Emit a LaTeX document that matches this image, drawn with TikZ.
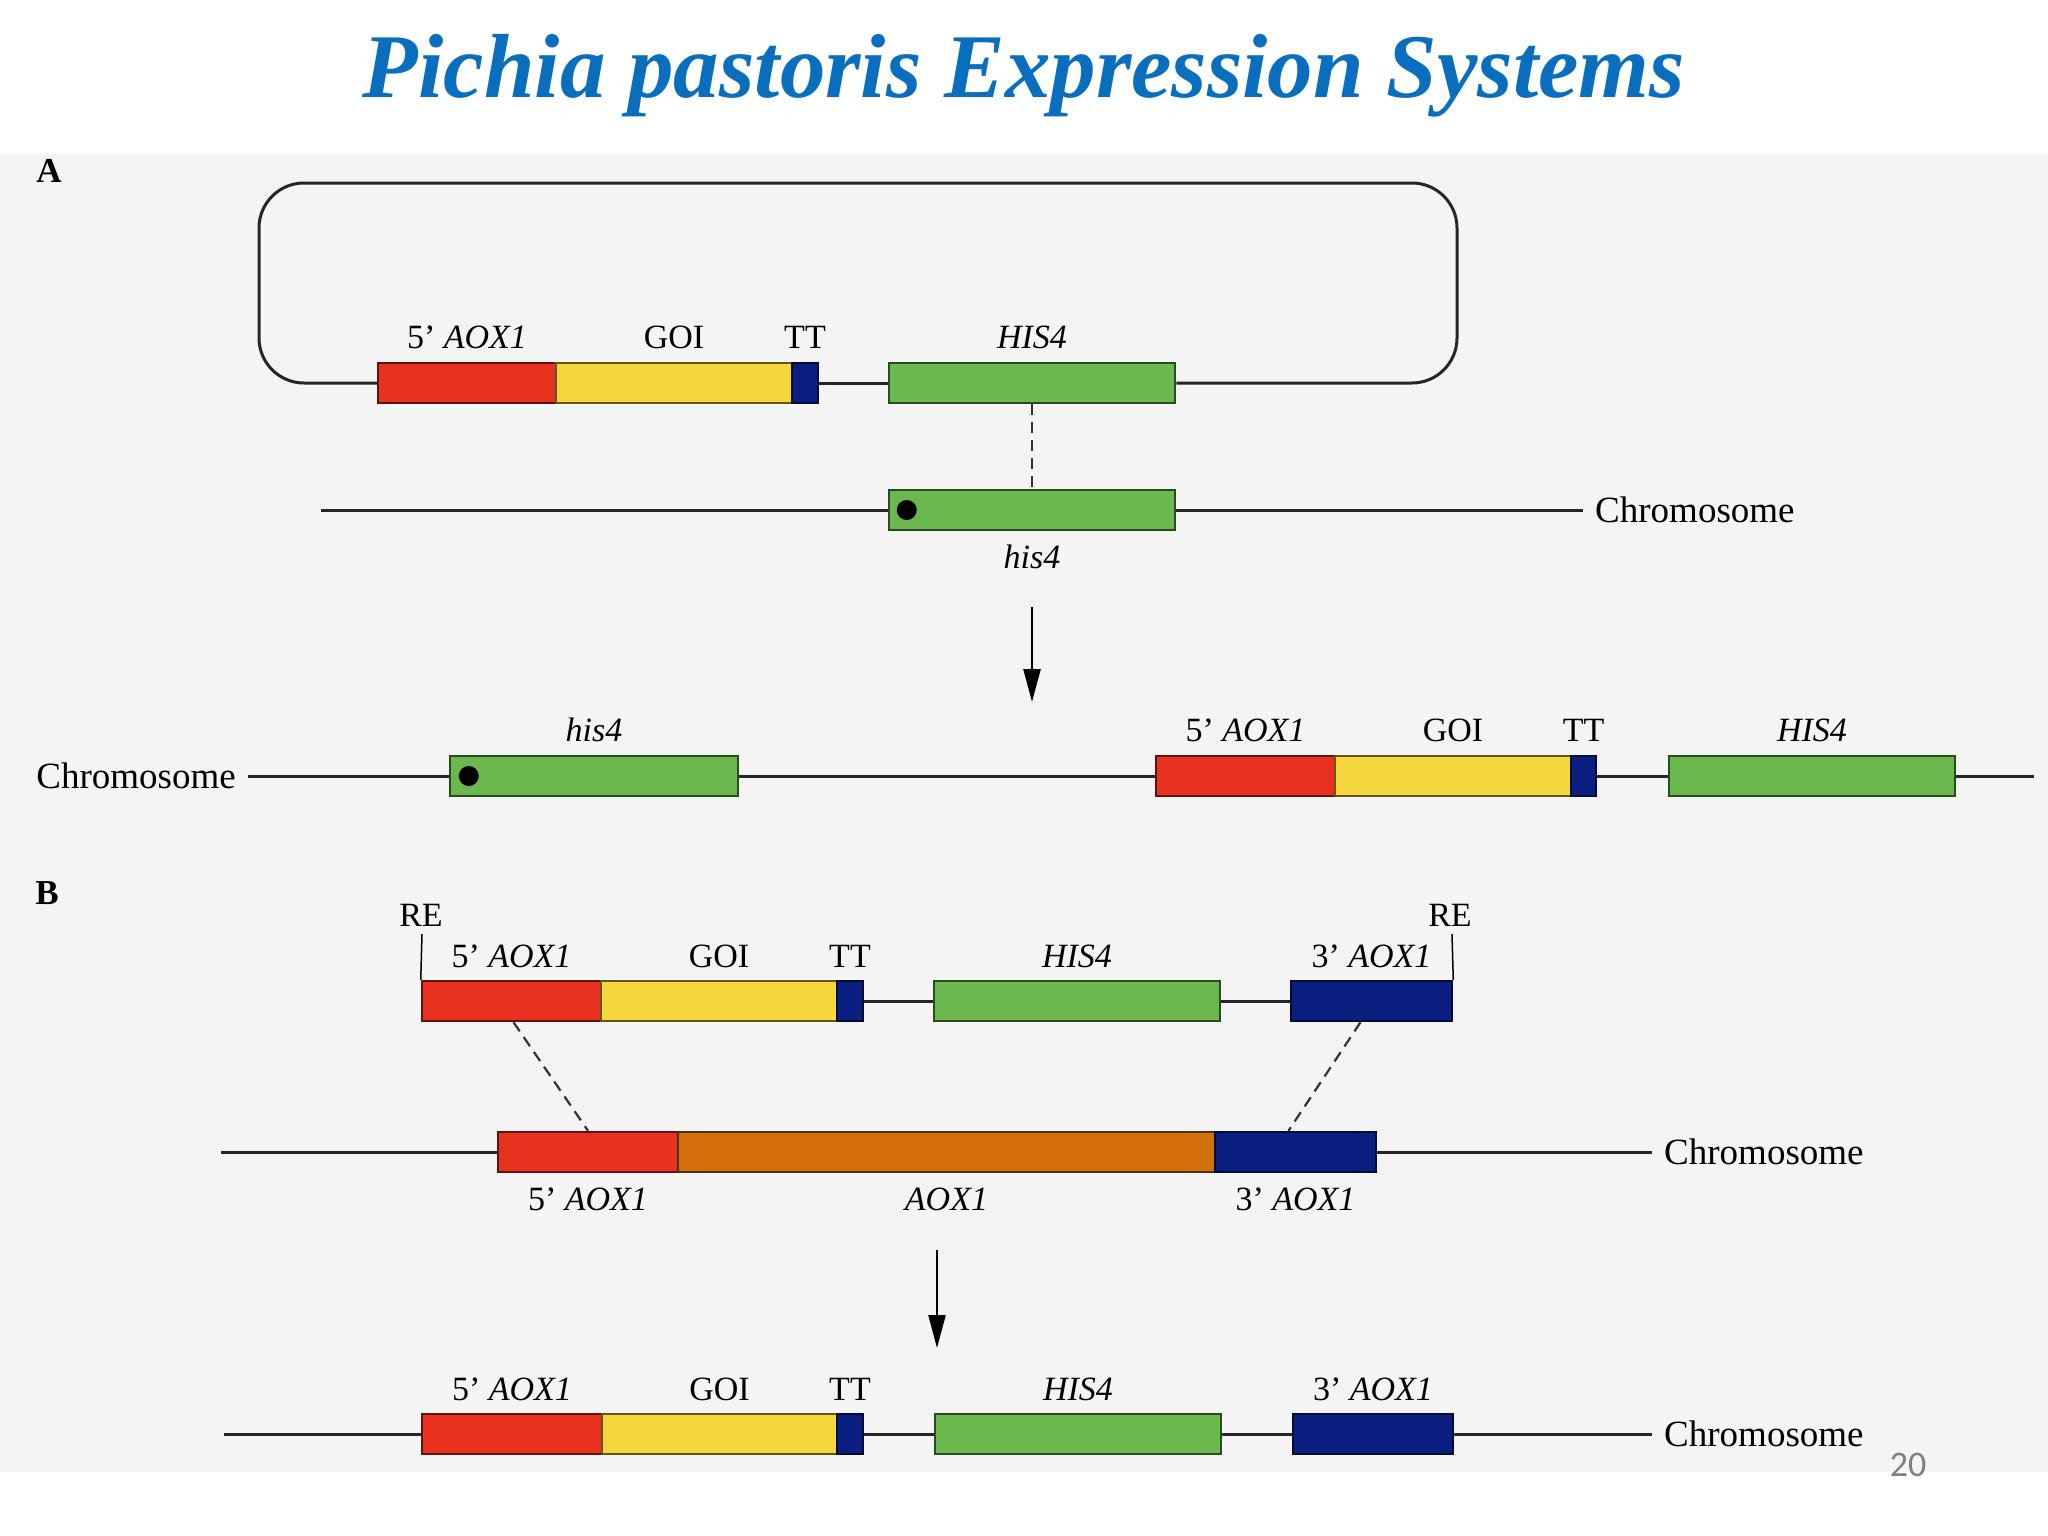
\documentclass[tikz,border=0pt]{standalone}
\usepackage{fontspec}
\setmainfont{Liberation Serif}
\newfontfamily\pagefont{Carlito}
\usetikzlibrary{arrows.meta}
\definecolor{genered}{HTML}{E8321F}
\definecolor{geneyellow}{HTML}{F5D63D}
\definecolor{genenavy}{HTML}{0B1F80}
\definecolor{genegreen}{HTML}{6AB84E}
\definecolor{geneorange}{HTML}{D4700A}
\definecolor{titleblue}{HTML}{0A6EBE}
\definecolor{bggray}{HTML}{F4F4F4}
\definecolor{pagegray}{HTML}{808080}
\newcommand\gb[5]{\node[genebox, fill=#5, draw=#5!40!black, minimum width={#3-#2}] (#1) at ({(#2+#3)/2},#4) {};}
\begin{document}
\begin{tikzpicture}[x=1pt,y=-1pt,
  genebox/.style={rectangle, inner sep=0pt, minimum height=40pt, line width=2.5pt},
  lab/.style={font=\fontsize{34}{40}\selectfont, inner sep=0pt, anchor=base},
  chrlab/.style={font=\fontsize{37}{40}\selectfont, inner xsep=12pt, inner ysep=0pt},
  dna/.style={line width=3pt, black!85},
  homol/.style={line width=2.2pt, black!80, dash pattern=on 11pt off 7pt},
  flow/.style={line width=2.5pt, -{Triangle[length=33pt,width=17pt]}},
  dot/.style={circle, fill=black, inner sep=0pt, minimum size=20pt},
  panel/.style={font=\fontsize{35}{40}\selectfont\bfseries, inner sep=0pt}]
\useasboundingbox (0,0) rectangle (2048,1536);
\fill[white] (0,0) rectangle (2048,1536);
\fill[bggray] (0,154) rectangle (2048,1472);

% title
\node[font=\fontsize{91}{100}\selectfont\bfseries\itshape, text=titleblue, inner sep=0pt, anchor=base] (title) at (1024,98) {Pichia pastoris Expression Systems};

% ---------------- Panel A ----------------
\node[panel] (pA) at (49,171) {A};

% plasmid
\gb{redA}{378}{556}{383}{genered}
\gb{yelA}{556}{792}{383}{geneyellow}
\gb{ttA}{792}{818}{383}{genenavy}
\gb{HISA}{889}{1175}{383}{genegreen}
\coordinate (loopTL) at (259,183);
\coordinate (loopBR) at (1457,383);
\draw[dna, rounded corners=45pt] (redA.west) -| (loopTL) -| (loopBR) -- (HISA.east);
\draw[dna] (ttA.east) -- (HISA.west);
\node[lab] (lredA) at ([yshift=13pt]redA.north) {5’ \textit{AOX1}};
\node[lab] (lyelA) at ([yshift=13pt]yelA.north) {GOI};
\node[lab] (lttA) at ([yshift=13pt]ttA.north) {TT};
\node[lab] (lHISA) at ([yshift=13pt]HISA.north) {\textit{HIS4}};

% chromosome with his4
\gb{hisChr}{889}{1175}{510}{genegreen}
\node[dot] (dotA) at ([xshift=19pt]hisChr.west) {};
\coordinate (chrL1) at (321,510);
\node[chrlab, anchor=west] (chrLab1) at (1583,510) {Chromosome};
\draw[dna] (chrL1) -- (hisChr.west);
\draw[dna] (hisChr.east) -- (chrLab1.west);
\node[lab] (lhisChr) at ([yshift=-37pt]hisChr.south) {\textit{his4}};
\draw[homol] (HISA.south) -- (hisChr.north);

% arrow A
\coordinate (arrA1) at (1032,607);
\coordinate (arrA2) at (1032,702);
\draw[flow] (arrA1) -- (arrA2);

% integrated (A)
\gb{his4B}{450}{738}{776}{genegreen}
\node[dot] (dotB) at ([xshift=20pt]his4B.west) {};
\gb{redA2}{1156}{1335}{776}{genered}
\gb{yelA2}{1335}{1571}{776}{geneyellow}
\gb{ttA2}{1571}{1596}{776}{genenavy}
\gb{HISA2}{1669}{1955}{776}{genegreen}
\node[chrlab, anchor=east] (chrLab2) at (248,776) {Chromosome};
\coordinate (chrR2) at (2034,776);
\draw[dna] (chrLab2.east) -- (his4B.west);
\draw[dna] (his4B.east) -- (redA2.west);
\draw[dna] (ttA2.east) -- (HISA2.west);
\draw[dna] (HISA2.east) -- (chrR2);
\node[lab] (lhis4B) at ([yshift=13pt]his4B.north) {\textit{his4}};
\node[lab] (lredA2) at ([yshift=13pt]redA2.north) {5’ \textit{AOX1}};
\node[lab] (lyelA2) at ([yshift=13pt]yelA2.north) {GOI};
\node[lab] (lttA2) at ([yshift=13pt]ttA2.north) {TT};
\node[lab] (lHISA2) at ([yshift=13pt]HISA2.north) {\textit{HIS4}};

% ---------------- Panel B ----------------
\node[panel] (pB) at (47,893) {B};

% linear cassette
\gb{redB}{422}{601}{1001}{genered}
\gb{yelB}{601}{837}{1001}{geneyellow}
\gb{ttB}{837}{863}{1001}{genenavy}
\gb{HISB}{934}{1220}{1001}{genegreen}
\gb{navB}{1291}{1452}{1001}{genenavy}
\draw[dna] (ttB.east) -- (HISB.west);
\draw[dna] (HISB.east) -- (navB.west);
\node[lab] (lredB) at ([yshift=12pt]redB.north) {5’ \textit{AOX1}};
\node[lab] (lyelB) at ([yshift=12pt]yelB.north) {GOI};
\node[lab] (lttB) at ([yshift=12pt]ttB.north) {TT};
\node[lab] (lHISB) at ([yshift=12pt]HISB.north) {\textit{HIS4}};
\node[lab] (lnavB) at ([yshift=12pt]navB.north) {3’ \textit{AOX1}};
\node[lab] (RE1) at (421,926) {RE};
\node[lab] (RE2) at (1450,926) {RE};
\coordinate (reTop1) at (422,934);
\coordinate (reTop2) at (1452,934);
\draw[line width=1.5pt] (reTop1) -- (redB.north west);
\draw[line width=1.5pt] (reTop2) -- (navB.north east);

% chromosome AOX1 locus
\gb{redM}{498}{678}{1152}{genered}
\gb{oraM}{678}{1215}{1152}{geneorange}
\gb{navM}{1215}{1376}{1152}{genenavy}
\coordinate (chrL3) at (221,1152);
\node[chrlab, anchor=west] (chrLab3) at (1652,1152) {Chromosome};
\draw[dna] (chrL3) -- (redM.west);
\draw[dna] (navM.east) -- (chrLab3.west);
\node[lab] (lredM) at ([yshift=-37pt]redM.south) {5’ \textit{AOX1}};
\node[lab] (loraM) at ([yshift=-37pt]oraM.south) {\textit{AOX1}};
\node[lab] (lnavM) at ([yshift=-37pt]navM.south) {3’ \textit{AOX1}};
\draw[homol] ([xshift=2pt]redB.south) -- (redM.north);
\draw[homol] ([xshift=-11pt]navB.south) -- ([xshift=-7pt]navM.north);

% arrow B
\coordinate (arrB1) at (937,1250);
\coordinate (arrB2) at (937,1348);
\draw[flow] (arrB1) -- (arrB2);

% replaced locus
\gb{redC}{422}{602}{1434}{genered}
\gb{yelC}{602}{837}{1434}{geneyellow}
\gb{ttC}{837}{863}{1434}{genenavy}
\gb{HISC}{935}{1221}{1434}{genegreen}
\gb{navC}{1293}{1453}{1434}{genenavy}
\coordinate (chrL4) at (224,1434);
\node[chrlab, anchor=west] (chrLab4) at (1652,1434) {Chromosome};
\draw[dna] (chrL4) -- (redC.west);
\draw[dna] (ttC.east) -- (HISC.west);
\draw[dna] (HISC.east) -- (navC.west);
\draw[dna] (navC.east) -- (chrLab4.west);
\node[lab] (lredC) at ([yshift=12pt]redC.north) {5’ \textit{AOX1}};
\node[lab] (lyelC) at ([yshift=12pt]yelC.north) {GOI};
\node[lab] (lttC) at ([yshift=12pt]ttC.north) {TT};
\node[lab] (lHISC) at ([yshift=12pt]HISC.north) {\textit{HIS4}};
\node[lab] (lnavC) at ([yshift=12pt]navC.north) {3’ \textit{AOX1}};

% page number
\node[font=\pagefont\fontsize{36}{40}\selectfont, text=pagegray, inner sep=0pt] (pnum) at (1908,1465) {20};
\end{tikzpicture}
\end{document}
